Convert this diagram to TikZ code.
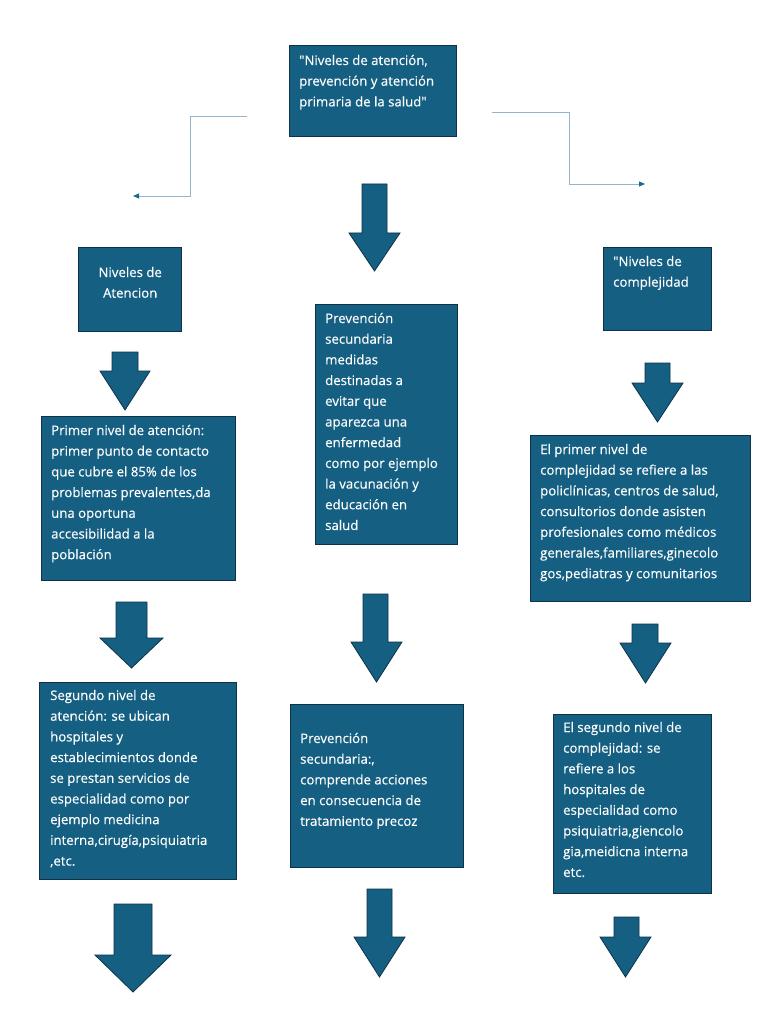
\documentclass[tikz,border=0pt]{standalone}
\usepackage{fontspec}
\setmainfont{Open Sans}[Ligatures=TeXOff,FakeBold=0.25]
\usetikzlibrary{arrows.meta}
\definecolor{boxfill}{HTML}{156082}
\definecolor{boxline}{HTML}{0E3247}
\definecolor{conline}{HTML}{92B6CD}
\definecolor{contip}{HTML}{1F6890}
\tikzset{
  boxstyle/.style={draw=boxline, line width=0.9pt, fill=boxfill},
  txt/.style={text=white, inner sep=0pt, anchor=base west, font=\fontsize{13.2}{20.7}\selectfont},
  blockarr/.style={draw=boxline, line width=0.8pt, fill=boxfill, line join=miter},
  conn/.style={draw=conline, line width=0.9pt, -{Triangle[length=6pt,width=5pt,color=contip]}}
}
% \barrow{shaft left}{shaft right}{top}{head y}{head left}{head right}{tip y}
\newcommand\barrow[7]{%
  \path[blockarr] (#1,#3) -- (#2,#3) -- (#2,#4) -- (#6,#4) -- ({(#5+#6)/2},#7) -- (#5,#4) -- (#1,#4) -- cycle;}
\begin{document}
\begin{tikzpicture}[x=1pt,y=-1pt]
\useasboundingbox[fill=white] (0,0) rectangle (768,1024);

% boxes
\draw[boxstyle] (289,45) rectangle (456,136);
\draw[boxstyle] (78,247) rectangle (181,331);
\draw[boxstyle] (603,247) rectangle (711,330);
\draw[boxstyle] (41,416) rectangle (235,580);
\draw[boxstyle] (315,304) rectangle (457,544);
\draw[boxstyle] (530,435) rectangle (750,601);
\draw[boxstyle] (39,682) rectangle (236,879);
\draw[boxstyle] (290,704) rectangle (463,867);
\draw[boxstyle] (553,714) rectangle (711,893);

% texts
\node[txt] (ttop) at (299,65) {\parbox[t]{160pt}{\raggedright
"Niveles de atención,\\ prevención y atención\\ primaria de la salud"}};
\node[txt] (taten) at (79.5,277) {\parbox[t]{101pt}{\centering
Niveles de\\ Atencion}};
\node[txt] (tcomp) at (613,266) {\parbox[t]{100pt}{\raggedright
"Niveles de\\ complejidad}};
\node[txt] (tp1) at (51,435) {\parbox[t]{190pt}{\raggedright
Primer nivel de atención:\\ primer punto de contacto\\ que cubre el 85\% de los\\ problemas prevalentes,da\\ una oportuna\\ accesibilidad a la\\ población}};
\node[txt] (tm1) at (325,323) {\parbox[t]{140pt}{\raggedright
Prevención\\ secundaria\\ medidas\\ destinadas a\\ evitar que\\ aparezca una\\ enfermedad\\ como por ejemplo\\ la vacunación y\\ educación en\\ salud}};
\node[txt] (tr1) at (540,454) {\parbox[t]{220pt}{\raggedright
El primer nivel de\\ complejidad se refiere a las\\ policlínicas, centros de salud,\\ consultorios donde asisten\\ profesionales como médicos\\ generales,familiares,ginecolo\\ gos,pediatras y comunitarios}};
\node[txt] (tp2) at (50,700) {\parbox[t]{200pt}{\raggedright
Segundo nivel de\\ atención: se ubican\\ hospitales y\\ establecimientos donde\\ se prestan servicios de\\ especialidad como por\\ ejemplo medicina\\ interna,cirugía,psiquiatria\\ ,etc.}};
\node[txt] (tm2) at (300,743) {\parbox[t]{170pt}{\raggedright
Prevención\\ secundaria:,\\ comprende acciones\\ en consecuencia de\\ tratamiento precoz}};
\node[txt] (tr2) at (563,732) {\parbox[t]{160pt}{\raggedright
El segundo nivel de\\ complejidad: se\\ refiere a los\\ hospitales de\\ especialidad como\\ psiquiatria,giencolo\\ gia,meidicna interna\\ etc.}};

% connectors
\coordinate (lstart) at (247,116);
\coordinate (lend) at (133,196);
\coordinate (rstart) at (492,112);
\coordinate (rend) at (645,184);
\draw[conn] (lstart) -- (190,116) -- (190,196) -- (lend);
\draw[conn] (rstart) -- (569,112) -- (569,184) -- (rend);

% block arrows
\barrow{362}{387}{184}{233}{349}{400}{271}
\barrow{112}{138}{352}{371}{100}{150}{410}
\barrow{645}{670}{363}{383}{632}{683}{422}
\barrow{116}{147}{602}{638}{100}{163}{668}
\barrow{363}{388}{594}{642}{351}{402}{682}
\barrow{632}{658}{624}{643}{620}{671}{683}
\barrow{114}{152}{904}{955}{95}{171}{992}
\barrow{367}{392}{889}{937}{354}{405}{977}
\barrow{614}{639}{917}{937}{600}{651}{977}
\end{tikzpicture}
\end{document}
